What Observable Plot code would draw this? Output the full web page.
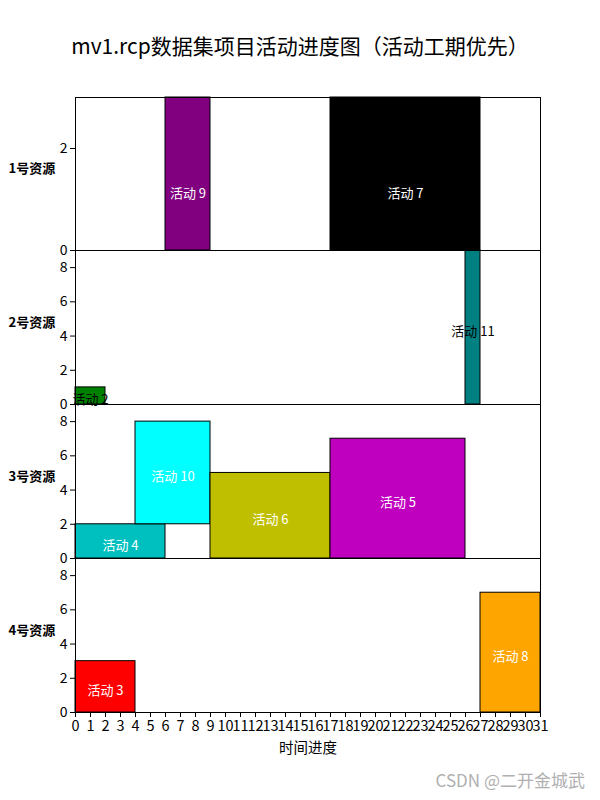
<!DOCTYPE html>
<html>
<head>
<meta charset="utf-8">
<script src="https://cdn.jsdelivr.net/npm/d3@7"></script>
<script src="https://cdn.jsdelivr.net/npm/@observablehq/plot@0.6"></script>
<style>
  body { margin: 0; background: white; }
  #wrap { position: relative; width: 600px; height: 800px; font-family: "Noto Sans CJK SC", sans-serif; overflow: hidden; }
  #wrap svg { position: absolute; left: 0; overflow: visible; }
  .title { position: absolute; left: 0; width: 600px; top: 30px; text-align: center; font-size: 21px; line-height: 30px; color: #000; }
  .mark { position: absolute; right: 15px; top: 766px; font-size: 17px; color: #b0b0b0; line-height: 28px; }
</style>
</head>
<body>
<div id="wrap">
  <div class="title">mv1.rcp数据集项目活动进度图（活动工期优先）</div>
  <div class="mark">CSDN @二开金城武</div>
</div>
<script>
// ---- data ----
const activities = ["活动 9","活动 7","活动 2","活动 11","活动 4","活动 10","活动 6","活动 5","活动 3","活动 8"];
const resources  = [1, 1, 2, 2, 3, 3, 3, 3, 4, 4];
const starts     = [6, 17, 0, 26, 0, 4, 9, 17, 0, 27];
const ends       = [9, 27, 2, 27, 6, 9, 17, 26, 4, 31];
const lows       = [0, 0, 0, 0, 0, 2, 0, 0, 0, 0];
const highs      = [3, 3, 1, 9, 2, 8, 5, 7, 3, 7];
const fills      = ["#800080","#000000","#008000","#008080","#00BFBF","#00FFFF","#BFBF00","#BF00BF","#FF0000","#FFA500"];
const labelFills = ["white","white","black","black","white","white","white","white","white","white"];
const resourceNames = ["1号资源","2号资源","3号资源","4号资源"];
const resourceMax = [3, 9, 9, 9];
const yTickValues = [[0, 2], [0, 2, 4, 6, 8], [0, 2, 4, 6, 8], [0, 2, 4, 6, 8]];
const xTickValues = d3.range(0, 32);
const xMax = 31;
const xLabel = "时间进度";

const tasks = activities.map((a, i) => ({
  name: a, res: resources[i], start: starts[i], end: ends[i],
  low: lows[i], high: highs[i], fill: fills[i], lf: labelFills[i]
}));

// ---- layout ----
const panelTops = [97, 250, 404, 558];
const panelH = [153, 154, 154, 154];
const pad = 10;
const wrap = document.getElementById("wrap");

resourceNames.forEach((rname, k) => {
  const last = k === resourceNames.length - 1;
  const data = tasks.filter(d => d.res === k + 1);
  const mb = last ? 70 : pad;
  const chart = Plot.plot({
    width: 600,
    height: panelH[k] + pad + mb,
    marginLeft: 75,
    marginRight: 60,
    marginTop: pad,
    marginBottom: mb,
    style: { background: "transparent", fontFamily: "Noto Sans CJK SC, sans-serif", color: "black", overflow: "visible" },
    x: { domain: [0, xMax] },
    y: { domain: [0, resourceMax[k]] },
    color: { type: "identity" },
    marks: [
      Plot.rect(data, { x1: "start", x2: "end", y1: "low", y2: "high", fill: "fill", stroke: "black", strokeWidth: 1 }),
      Plot.text(data, { x: d => (d.start + d.end) / 2, y: d => (d.low + d.high) / 2, text: "name", fill: "lf",
        fontSize: 13, dy: k === 0 ? 20 : 4 }),
      Plot.frame({ stroke: "black", strokeWidth: 1 }),
      Plot.axisY({ ticks: yTickValues[k], tickFormat: d => String(d), tickSize: 5, tickPadding: 3, fontSize: 14, label: null, stroke: "black" }),
      Plot.text([rname], { frameAnchor: "left", dx: -67, dy: -5, textAnchor: "start", fontSize: 13, fontWeight: "bold", text: d => d }),
      last
        ? Plot.axisX({ ticks: xTickValues, tickFormat: d => String(d), tickSize: 5, tickPadding: 3, fontSize: 14.5,
            label: xLabel, labelAnchor: "center", labelArrow: "none", labelOffset: 40, stroke: "black" })
        : Plot.axisX({ ticks: [] , label: null, tickSize: 0, tickFormat: () => "" })
    ]
  });
  chart.style.top = (panelTops[k] - pad) + "px";
  wrap.appendChild(chart);
});
</script>
</body>
</html>
